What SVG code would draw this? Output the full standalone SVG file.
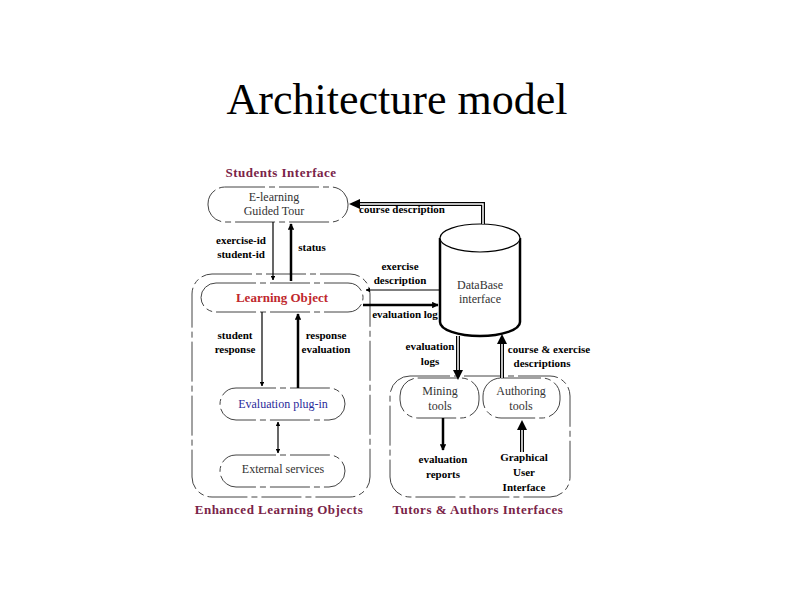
<svg xmlns="http://www.w3.org/2000/svg" width="794" height="595" viewBox="0 0 794 595">
<style>
.t{font-family:"Liberation Serif",serif;text-anchor:middle}
.b{font-size:11px;font-weight:bold;fill:#000}
.h{font-size:13px;font-weight:bold;fill:#7a2448;letter-spacing:0.5px}
.n{font-size:12px;fill:#333}
.box{fill:#fff;stroke:#444;stroke-width:1;stroke-dasharray:40 4 6 4}
.thin{stroke:#000;stroke-width:1.2;fill:none}
.thick{stroke:#000;stroke-width:2.5;fill:none}
.dbl{stroke:#000;stroke-width:4;fill:none}
.dbli{stroke:#fff;stroke-width:1.5;fill:none}
</style>
<defs>
<marker id="a" viewBox="0 0 10 10" refX="9" refY="5" markerWidth="4" markerHeight="4" orient="auto-start-reverse"><path d="M0,0L10,5L0,10z" fill="#000"/></marker>
<marker id="a2" viewBox="0 0 10 10" refX="9" refY="5" markerWidth="2.6" markerHeight="2.6" orient="auto-start-reverse"><path d="M0,0L10,5L0,10z" fill="#000"/></marker>
</defs>
<rect width="794" height="595" fill="#fff"/>
<text class="t" x="397" y="114" font-size="44">Architecture model</text>
<text class="t h" x="281" y="177">Students Interface</text>
<text class="t h" x="279" y="514">Enhanced Learning Objects</text>
<text class="t h" x="478" y="514">Tutors &amp; Authors Interfaces</text>
<g id="elo-outer"><rect class="box" x="192" y="274" width="178" height="223" rx="20"/></g>
<g id="tai-outer"><rect class="box" x="390" y="376" width="180" height="121" rx="20"/></g>
<g id="elearning"><rect class="box" x="208" y="187" width="140" height="35" rx="17"/><text class="t n" x="274" y="201">E-learning</text><text class="t n" x="274" y="215">Guided Tour</text></g>
<g id="lo"><rect class="box" x="201" y="283" width="162" height="29" rx="15"/><text class="t" x="282" y="302" font-size="13" font-weight="bold" fill="#c0282d">Learning Object</text></g>
<g id="eval"><rect class="box" x="220" y="388" width="125" height="32" rx="16"/><text class="t" x="283" y="408" font-size="12" fill="#2a2a9a">Evaluation plug-in</text></g>
<g id="ext"><rect class="box" x="220" y="455" width="125" height="32" rx="16"/><text class="t n" x="283" y="473">External services</text></g>
<g id="mining"><rect class="box" x="400" y="378" width="79" height="40" rx="18"/><text class="t n" x="440" y="395">Mining</text><text class="t n" x="440" y="410">tools</text></g>
<g id="authoring"><rect class="box" x="483" y="378" width="77" height="40" rx="18"/><text class="t n" x="521" y="395">Authoring</text><text class="t n" x="521" y="410">tools</text></g>
<g id="db">
<path d="M440,238 V322 A40,14 0 0 0 520,322 V238" fill="#fff" stroke="#000" stroke-width="2.5"/>
<ellipse cx="480" cy="238" rx="40" ry="14" fill="#fff" stroke="#000" stroke-width="1.2"/>
<text class="t n" x="480" y="289">DataBase</text><text class="t n" x="480" y="303">interface</text>
</g>
<g id="connectors">
<path class="dbl" d="M483,224 V204 H356"/><path class="dbli" d="M483,224 V204 H356"/>
<path d="M360,199 L349,204 L360,209z" fill="#000"/>
<line class="thin" x1="273" y1="222" x2="273" y2="280" marker-end="url(#a)"/>
<line class="thick" x1="291" y1="281" x2="291" y2="224" marker-end="url(#a2)"/>
<line class="thin" x1="440" y1="290" x2="366" y2="290" marker-end="url(#a)"/>
<line class="thick" x1="363" y1="305" x2="438" y2="305" marker-end="url(#a2)"/>
<line class="thin" x1="262" y1="312" x2="262" y2="386" marker-end="url(#a)"/>
<line class="thick" x1="298" y1="388" x2="298" y2="314" marker-end="url(#a2)"/>
<line class="thin" x1="278" y1="422" x2="278" y2="453" marker-start="url(#a)" marker-end="url(#a)"/>
<path class="dbl" d="M458,336 V372"/><path class="dbli" d="M458,336 V372"/>
<path d="M453,370 L458,380 L463,370z" fill="#000"/>
<path class="dbl" d="M502,378 V342"/><path class="dbli" d="M502,378 V342"/>
<path d="M497,344 L502,334 L507,344z" fill="#000"/>
<line class="thick" x1="443" y1="418" x2="443" y2="450" marker-end="url(#a2)"/>
<path class="dbl" d="M522,452 V428"/><path class="dbli" d="M522,452 V428"/>
<path d="M517,430 L522,420 L527,430z" fill="#000"/>
</g>
<g id="labels">
<text class="t b" x="402" y="213">course description</text>
<text class="t b" x="241" y="244">exercise-id</text><text class="t b" x="241" y="258">student-id</text>
<text class="t b" x="312" y="251">status</text>
<text class="t b" x="400" y="270">exercise</text><text class="t b" x="400" y="284">description</text>
<text class="t b" x="405" y="318">evaluation log</text>
<text class="t b" x="235" y="339">student</text><text class="t b" x="235" y="353">response</text>
<text class="t b" x="326" y="339">response</text><text class="t b" x="326" y="353">evaluation</text>
<text class="t b" x="430" y="350">evaluation</text><text class="t b" x="430" y="365">logs</text>
<text class="t b" x="549" y="353">course &amp; exercise</text><text class="t b" x="542" y="367">descriptions</text>
<text class="t b" x="443" y="463">evaluation</text><text class="t b" x="443" y="478">reports</text>
<text class="t b" x="524" y="461">Graphical</text><text class="t b" x="524" y="476">User</text><text class="t b" x="524" y="491">Interface</text>
</g>
</svg>
